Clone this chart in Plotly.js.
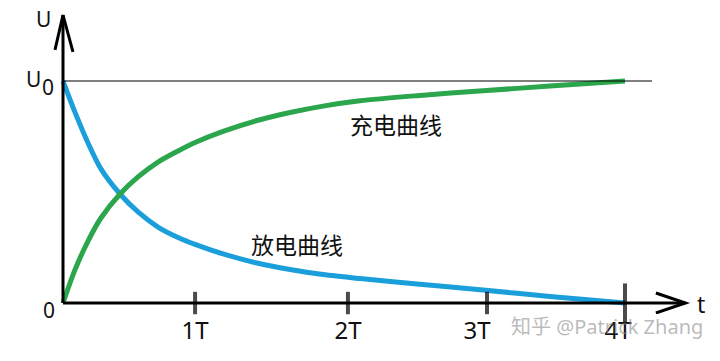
<!DOCTYPE html>
<html><head><meta charset="utf-8">
<script src="https://cdn.plot.ly/plotly-3.0.1.min.js"></script>
<style>html,body{margin:0;padding:0;background:#fff}#chart{width:720px;height:361px}</style>
</head><body><div id="chart"></div>
<script>
// time in units of T, voltage in units of U0
const dischargeT = [0, 0.085, 0.178, 0.270, 0.406, 0.534, 0.676, 0.819, 0.940, 1.139, 1.381, 1.616, 1.851, 2.114, 2.520, 2.989, 3.466, 4.0];
const dischargeU = [1.0, 0.860, 0.721, 0.604, 0.491, 0.410, 0.342, 0.295, 0.264, 0.221, 0.180, 0.151, 0.128, 0.110, 0.086, 0.059, 0.029, 0.0];
const chargeT = [0, 0.085, 0.178, 0.270, 0.406, 0.534, 0.676, 0.819, 0.940, 1.139, 1.381, 1.616, 1.851, 2.114, 2.520, 2.989, 3.466, 4.0];
const chargeU = [0.0, 0.149, 0.279, 0.383, 0.491, 0.568, 0.635, 0.685, 0.723, 0.773, 0.822, 0.858, 0.887, 0.911, 0.934, 0.956, 0.977, 1.0];
const tickPos = [0.94, 2.028, 3.018, 4.0];
const labelPos = [0.94, 2.028, 2.947, 3.95];
const tickLabels = ['1T', '2T', '3T', '4T'];
const curveLabels = ['充电曲线', '放电曲线'];

const FONT = 'Noto Sans, Noto Sans CJK SC, sans-serif';
const traces = [
  {x: dischargeT, y: dischargeU, mode: 'lines', line: {color: '#1B9FDB', width: 5, shape: 'spline', smoothing: 0.8}, hoverinfo: 'skip'},
  {x: chargeT, y: chargeU, mode: 'lines', line: {color: '#2BA64D', width: 5, shape: 'spline', smoothing: 0.8}, hoverinfo: 'skip'},
  {x: tickPos, y: tickPos.map(() => 0), mode: 'markers', cliponaxis: false,
   marker: {symbol: 'line-ns', size: [16, 16, 16, 28], line: {color: '#000', width: 4}}, hoverinfo: 'skip'}
];
const shapes = [
  {type: 'line', xref: 'x', yref: 'y', x0: 0, x1: 4.192, y0: 1, y1: 1, line: {color: '#000', width: 1.2}},
  {type: 'line', xref: 'x', yref: 'y', x0: 0, x1: 0, y0: 0, y1: 1.297, line: {color: '#000', width: 3}},
  {type: 'path', xref: 'x', yref: 'y', path: 'M -0.057,1.14 L 0,1.297 L 0.071,1.131', line: {color: '#000', width: 3}},
  {type: 'line', xref: 'x', yref: 'y', x0: 0, x1: 4.43, y0: 0, y1: 0, line: {color: '#000', width: 3}},
  {type: 'path', xref: 'x', yref: 'y', path: 'M 4.22,0.045 L 4.43,0 L 4.22,-0.045', line: {color: '#000', width: 3}}
];
const ann = (x, y, text, size, color, ref) => ({x, y, xref: 'x', yref: ref || 'y', text, showarrow: false,
  font: {family: FONT, size, color: color || '#111'}, xanchor: 'center', yanchor: 'middle'});
const annotations = [
  ann(-0.142, 1.279, 'U', 21),
  ann(-0.21, 1.011, 'U', 21),
  ann(-0.110, 0.975, '0', 21),
  ann(-0.0996, -0.0315, '0', 21),
  ann(4.541, -0.005, 't', 23),
  ann(2.37, 0.802, curveLabels[0], 23),
  ann(1.665, 0.261, curveLabels[1], 23),
  ann(3.872, -0.0414, '知乎 @Patrick Zhang', 20, 'rgba(140,140,140,0.6)', 'paper')
];
const layout = {
  width: 720, height: 361,
  margin: {l: 0, r: 0, t: 0, b: 47},
  paper_bgcolor: '#fff', plot_bgcolor: '#fff',
  showlegend: false,
  xaxis: {range: [-0.4484, 4.6762], showgrid: false, zeroline: false, showline: false,
    tickvals: labelPos, ticktext: tickLabels, ticks: '', ticklabelstandoff: 0,
    tickfont: {family: FONT, size: 24, color: '#111'}, fixedrange: true},
  yaxis: {range: [-0.0495, 1.3649], showgrid: false, zeroline: false, showline: false,
    showticklabels: false, ticks: '', fixedrange: true},
  shapes, annotations
};
Plotly.newPlot('chart', traces, layout, {staticPlot: true});
</script></body></html>
